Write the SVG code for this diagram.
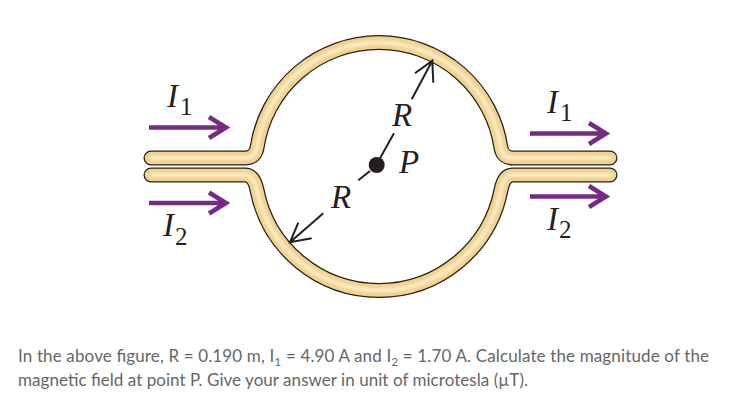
<svg xmlns="http://www.w3.org/2000/svg" width="744" height="411" viewBox="0 0 744 411">
<style>
.o{fill:none;stroke:#231f1a;stroke-width:15;stroke-linecap:round}
.m{fill:none;stroke:#f3d28f;stroke-width:12.500;stroke-linecap:round}
.l{fill:none;stroke:#fcebc8;stroke-width:4;stroke-linecap:round;filter:url(#soft)}
.a{fill:none;stroke:#762a84;stroke-width:4.500}
.k{fill:none;stroke:#231f20;stroke-width:2}
.t{font-family:"Liberation Serif",serif;font-style:italic;font-size:33px;fill:#231f20}
.s{font-family:"Liberation Serif",serif;font-size:25px;fill:#231f20}
.q{font-family:Lato,sans-serif;font-size:17px;fill:#666}
.u{font-size:12px}
</style>
<defs>
<filter id="soft" x="-5%" y="-5%" width="110%" height="110%"><feGaussianBlur stdDeviation="1.2"/></filter>
<path id="top" d="M151 158H245Q255 158 257 148A123.300 123.300 0 0 1 501 148Q503 158 513 158H610"/>
<path id="bot" d="M151 175H245Q254 175 257 190A124.300 124.300 0 0 0 501 190Q504 175 513 175H610"/>
</defs>
<g id="wire-upper"><use href="#top" class="o"/><use href="#top" class="m"/><use href="#top" class="l"/></g>
<g id="wire-lower"><use href="#bot" class="o"/><use href="#bot" class="m"/><use href="#bot" class="l"/></g>
<g id="connectors">
<path class="k" d="M411.700 99.300L432.300 60.700M415 73.300L432.300 60.700L433.300 82.700M394 133.300L380 158.300M370 171L358.300 180.300M323.300 213.300L290 242.300M298.300 222.700L290 242.300L311.700 238.300"/>
<path class="a" d="M149 127.500H225M209 117L226 127.500L209 138M149 203H225M209 192.500L226 203L209 213.500M530 133.500H605M589 123L606 133.500L589 144M530 196.500H605M589 186L606 196.500L589 207"/>
</g>
<g id="point-P"><circle cx="376.700" cy="165" r="8" fill="#231f20"/><text class="t" x="399" y="173">P</text></g>
<g id="labels">
<text class="t" x="392" y="126">R</text>
<text class="t" x="331" y="208">R</text>
<text class="t" x="167" y="107">I</text><text class="s" x="180" y="115">1</text>
<text class="t" x="163" y="236">I</text><text class="s" x="175" y="245">2</text>
<text class="t" x="547" y="113">I</text><text class="s" x="560" y="121">1</text>
<text class="t" x="547" y="230">I</text><text class="s" x="559" y="238">2</text>
</g>
<g id="question">
<text class="q" x="18" y="362" textLength="691">In the above figure, R = 0.190 m, I<tspan class="u" dy="4">1</tspan><tspan dy="-4"> = 4.90 A and I</tspan><tspan class="u" dy="4">2</tspan><tspan dy="-4"> = 1.70 A. Calculate the magnitude of the</tspan></text>
<text class="q" x="18" y="386" textLength="510">magnetic field at point P. Give your answer in unit of microtesla (µT).</text>
</g>
</svg>
